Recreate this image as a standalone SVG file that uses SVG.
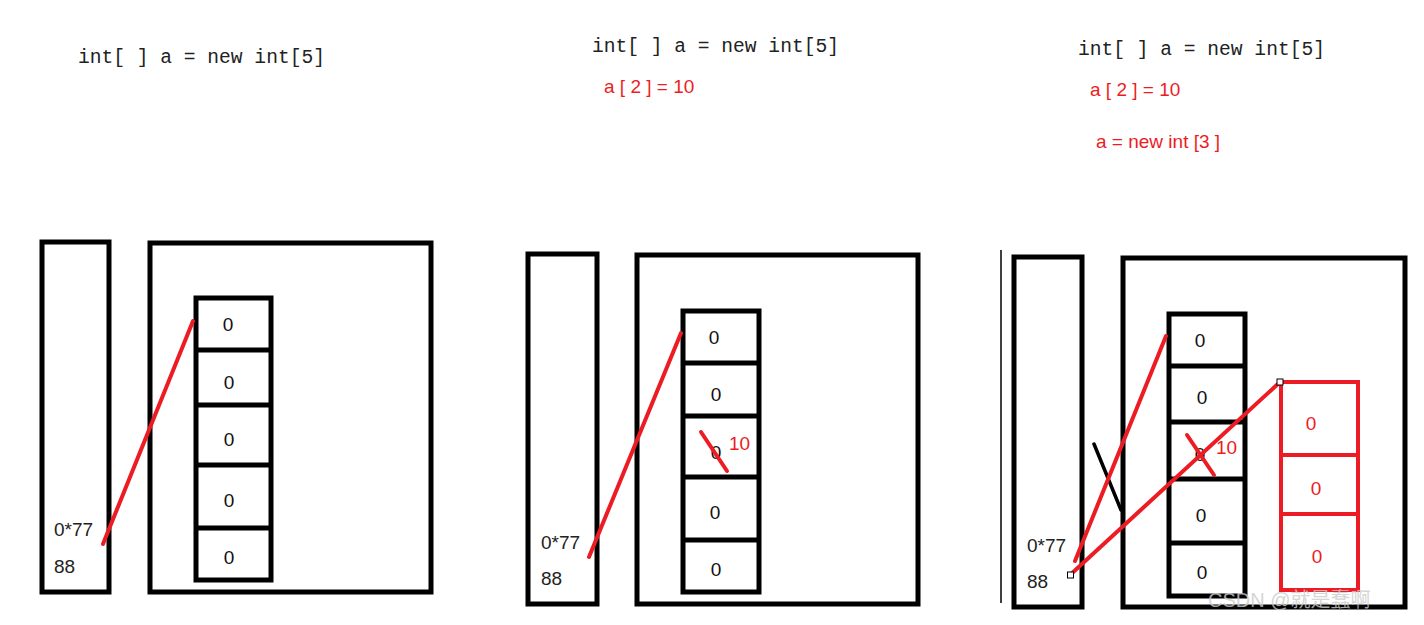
<svg xmlns="http://www.w3.org/2000/svg" width="1424" height="625" viewBox="0 0 1424 625">
<style>
.b{fill:none;stroke:#000;stroke-width:5}
.r{fill:none;stroke:#ed1c24;stroke-width:4;stroke-linecap:round}
.code{font-family:"Liberation Mono",monospace;font-size:19.6px;fill:#222}
.t{font-family:"Liberation Sans",Arial,sans-serif;font-size:19px;fill:#222}
.rt{font-family:"Liberation Sans",Arial,sans-serif;font-size:19px;fill:#ed1c24}
.z{font-family:"Liberation Sans",Arial,sans-serif;font-size:19px;fill:#111;text-anchor:middle}
.rz{font-family:"Liberation Sans",Arial,sans-serif;font-size:19px;fill:#ed1c24;text-anchor:middle}
</style>
<rect width="1424" height="625" fill="#fff"/>
<text class="code" x="78" y="63">int[ ] a = new int[5]</text>
<text class="code" x="592" y="52">int[ ] a = new int[5]</text>
<text class="rt" x="604" y="93">a [ 2 ] = 10</text>
<text class="code" x="1078" y="55">int[ ] a = new int[5]</text>
<text class="rt" x="1090" y="96">a [ 2 ] = 10</text>
<text class="rt" x="1096" y="148">a = new int [3 ]</text>

<g id="panel1">
<rect class="b" x="42" y="242" width="67" height="350"/>
<rect class="b" x="150" y="243" width="281" height="349"/>
<rect class="b" x="196" y="298" width="75" height="282"/>
<path class="b" d="M196 350H271M196 405H271M196 465H271M196 528H271"/>
<text class="z" x="228" y="331">0</text><text class="z" x="229" y="389">0</text><text class="z" x="229" y="446">0</text><text class="z" x="229" y="507">0</text><text class="z" x="229" y="564">0</text>
<text class="t" x="54" y="536">0*77</text><text class="t" x="54" y="573">88</text>
</g>

<g id="panel2">
<rect class="b" x="528" y="254" width="69" height="350"/>
<rect class="b" x="637" y="255" width="281" height="349"/>
<rect class="b" x="683" y="311" width="76" height="281"/>
<path class="b" d="M683 363H759M683 416H759M683 477H759M683 540H759"/>
<text class="z" x="714" y="344">0</text><text class="z" x="716" y="401">0</text><text class="z" x="716" y="459">0</text><text class="z" x="715" y="519">0</text><text class="z" x="716" y="576">0</text>
<text class="rt" x="729" y="450">10</text>
<text class="t" x="541" y="549">0*77</text><text class="t" x="541" y="585">88</text>
</g>

<g id="panel3">
<line x1="1001" y1="250" x2="1001" y2="603" stroke="#000" stroke-width="1.5"/>
<rect class="b" x="1014" y="257" width="68" height="350"/>
<rect class="b" x="1123" y="258" width="282" height="349"/>
<rect class="b" x="1169" y="314" width="76" height="282"/>
<path class="b" d="M1169 366H1245M1169 422H1245M1169 479H1245M1169 543H1245"/>
<text class="z" x="1200" y="347">0</text><text class="z" x="1202" y="404">0</text><text class="z" x="1200" y="461">0</text><text class="z" x="1201" y="522">0</text><text class="z" x="1202" y="579">0</text>
<text class="rt" x="1216" y="454">10</text>
<text class="t" x="1027" y="552">0*77</text><text class="t" x="1027" y="588">88</text>
<rect x="1281" y="382" width="77" height="208" fill="none" stroke="#ed1c24" stroke-width="4"/>
<path d="M1281 455H1358M1281 514H1358" stroke="#ed1c24" stroke-width="4"/>
<text class="rz" x="1311" y="430">0</text><text class="rz" x="1316" y="495">0</text><text class="rz" x="1317" y="563">0</text>
<line x1="1094" y1="444" x2="1121" y2="510" stroke="#000" stroke-width="3.5" stroke-linecap="round"/>
</g>

<g id="connectors">
<line class="r" x1="103" y1="544" x2="193" y2="321"/>
<line class="r" x1="589" y1="557" x2="681" y2="333"/>
<line class="r" x1="701" y1="432" x2="727" y2="471"/>
<line class="r" x1="1075" y1="561" x2="1166" y2="336"/>
<line class="r" x1="1070" y1="575" x2="1280" y2="382"/>
<line class="r" x1="1187" y1="435" x2="1214" y2="475"/>
<rect x="1067.5" y="572" width="6" height="6" fill="#fff" stroke="#000" stroke-width="1"/>
<rect x="1277" y="379" width="6" height="6" fill="#fff" stroke="#000" stroke-width="1"/>
</g>
<text x="1208" y="607" font-family="Liberation Sans,'Noto Sans CJK SC',sans-serif" font-size="20" fill="#ccc" opacity="0.8">CSDN @就是蠢啊</text>
</svg>
